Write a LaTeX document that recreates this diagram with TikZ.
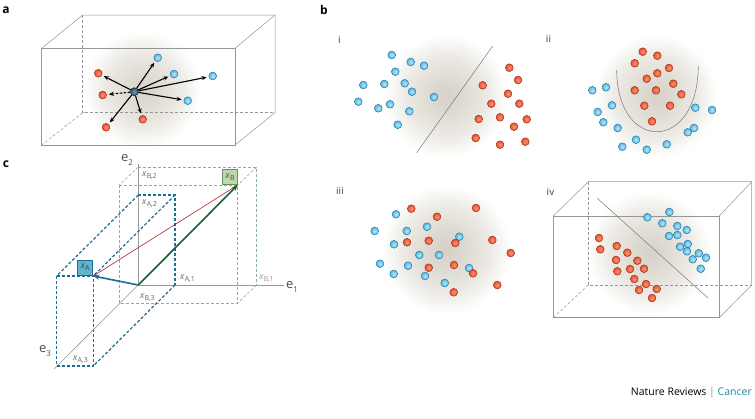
\documentclass[tikz,border=0pt]{standalone}
\usepackage{fontspec}
\setmainfont{Open Sans}
\usetikzlibrary{arrows.meta}
\definecolor{Rhi}{RGB}{250,150,118}
\definecolor{Rmid}{RGB}{226,80,44}
\definecolor{Rdark}{RGB}{170,48,24}
\definecolor{Bhi}{RGB}{185,232,250}
\definecolor{Bmid}{RGB}{84,180,222}
\definecolor{Bdark}{RGB}{38,124,168}
\definecolor{Chi}{RGB}{120,150,170}
\definecolor{Cmid}{RGB}{55,88,110}
\definecolor{Cdark}{RGB}{25,45,60}
\definecolor{glowc}{RGB}{198,189,172}
\definecolor{boxgray}{RGB}{150,150,150}
\definecolor{bgreen}{RGB}{140,172,165}
\definecolor{ablue}{RGB}{28,110,150}
\definecolor{dgreen}{RGB}{22,100,45}
\definecolor{dred}{RGB}{165,40,55}
\definecolor{xAfill}{RGB}{100,178,205}
\definecolor{xBfill}{RGB}{188,216,172}
\definecolor{xBdraw}{RGB}{105,145,95}
\definecolor{labgray}{RGB}{105,105,105}
\definecolor{cancer}{RGB}{25,135,165}
\tikzset{
  ballR/.style={circle, inner sep=0pt, minimum size=7.8pt, inner color=Rhi, outer color=Rmid, draw=Rdark, line width=0.5pt},
  ballB/.style={circle, inner sep=0pt, minimum size=7.8pt, inner color=Bhi, outer color=Bmid, draw=Bdark, line width=0.5pt},
  ballC/.style={circle, inner sep=0pt, minimum size=7.8pt, inner color=Chi, outer color=Cmid, draw=Cdark, line width=0.5pt},
  glowlayer/.style={fill=glowc, fill opacity=0.045},
  boxline/.style={draw=boxgray, line width=0.5pt},
  boxdash/.style={draw=boxgray, line width=0.5pt, dash pattern=on 3pt off 2pt},
  sepline/.style={draw=gray, line width=0.55pt},
  vecarrow/.style={black, line width=1.1pt, -{Stealth[length=5pt,width=4.2pt]}, shorten >=2pt},
  panel/.style={font=\fontsize{12}{12}\selectfont\bfseries, inner sep=0pt},
  sublab/.style={font=\fontsize{10}{10}\selectfont, text=black!75, inner sep=0pt},
  axisline/.style={draw=black!40, line width=0.6pt},
  bbox/.style={draw=bgreen, line width=0.6pt, dash pattern=on 3pt off 2pt},
  abox/.style={draw=ablue, line width=1.2pt, dash pattern=on 3pt off 2pt},
  clab/.style={text=labgray, inner sep=0pt, font=\fontsize{9}{9}\selectfont},
  elab/.style={text=black!70, inner sep=0pt, font=\fontsize{13}{13}\selectfont},
  vbox/.style={minimum size=15pt, inner sep=0pt, line width=0.5pt, font=\fontsize{9}{9}\selectfont}
}
\newcommand{\xlab}[1]{\textit{x}\raisebox{-0.45ex}{\fontsize{7}{7}\selectfont #1}}
\newcommand{\elabel}[1]{e\raisebox{-0.5ex}{\fontsize{8}{8}\selectfont #1}}
\newcommand{\glowat}[2]{\foreach \gr in {3,6,...,#2} {\fill[glowlayer] (#1) circle (\gr);}}
\begin{document}
\begin{tikzpicture}[x=1pt,y=-1pt]
\path[use as bounding box, fill=white] (0,0) rectangle (755,418);
% glows
\coordinate (ga) at (143,90);
\coordinate (gi) at (446.7,96.7);
\coordinate (gii) at (656.7,96.7);
\coordinate (giii) at (446.7,250);
\coordinate (giv) at (650,253);
\glowat{ga}{57}
\glowat{gi}{60}
\glowat{gii}{60}
\glowat{giii}{63}
\glowat{giv}{60}

% panel letters
\node[panel] (pa) at (6,10) {a};
\node[panel] (pb) at (324,10) {b};
\node[panel] (pc) at (6,164) {c};

% ---------- panel a ----------
\coordinate (aF1) at (41.7,48.3); \coordinate (aF2) at (235,48.3);
\coordinate (aF3) at (235,145);  \coordinate (aF4) at (41.7,145);
\coordinate (aB1) at (82.7,15);  \coordinate (aB2) at (275,15);
\coordinate (aB3) at (275,112.7); \coordinate (aB4) at (82.7,112.7);
\draw[boxdash] (aB1) -- (aB4) -- (aB3);
\draw[boxdash] (aB4) -- (aF4);
\draw[boxline] (aF1) -- (aF2) -- (aF3) -- (aF4) -- cycle;
\draw[boxline] (aF1) -- (aB1) -- (aB2) -- (aB3) -- (aF3);
\draw[boxline] (aF2) -- (aB2);
\node[ballR] (ar1) at (98.3,73.3) {};
\node[ballR] (ar2) at (102.7,95) {};
\node[ballR] (ar3) at (106,127.3) {};
\node[ballR] (ar4) at (142.7,119.3) {};
\node[ballB] (ab1) at (157.7,57.7) {};
\node[ballB] (ab2) at (174,74) {};
\node[ballB] (ab3) at (212.7,76) {};
\node[ballB] (ab4) at (187.7,100.7) {};
\node[ballC] (ac) at (134.3,91.7) {};
\draw[vecarrow] (ac) -- (ar1);
\draw[vecarrow, dash pattern=on 2.5pt off 1.5pt] (ac) -- (ar2);
\draw[vecarrow] (ac) -- (ar3);
\draw[vecarrow] (ac) -- (ar4);
\draw[vecarrow] (ac) -- (ab1);
\draw[vecarrow] (ac) -- (ab2);
\draw[vecarrow] (ac) -- (ab3);
\draw[vecarrow] (ac) -- (ab4);
\node[ballC] (ac2) at (134.3,91.7) {};

% ---------- panel b i ----------
\node[sublab] (li) at (339.5,40) {i};
\coordinate (si1) at (492.7,46); \coordinate (si2) at (416.7,152.7);
\draw[sepline] (si1) -- (si2);
\foreach \x/\y [count=\k] in {391.7/55, 410.7/62, 424/65.7, 395.3/71.7, 363.3/85, 384.3/84, 404.7/83.3, 412/91.7, 434/97, 358.3/101.7, 390/104.3, 378.3/108.3, 409.3/111.3, 397.7/124.7}
  \node[ballB] (biB\k) at (\x,\y) {};
\foreach \x/\y [count=\k] in {509.3/67.7, 518/80, 482.7/85.3, 508/93.7, 491.3/103.7, 519.3/103.7, 500/117.3, 478.7/119, 526.7/119.3, 514/126.7, 475.7/138, 500/144.7, 525.3/141.7}
  \node[ballR] (biR\k) at (\x,\y) {};

% ---------- panel b ii ----------
\node[sublab] (lii) at (548.5,38.5) {ii};
\coordinate (sii1) at (616.7,70); \coordinate (sii2) at (698.3,65.7);
\draw[sepline] (sii1) .. controls (617,153) and (698,153) .. (sii2);
\foreach \x/\y [count=\k] in {642.7/51.7, 657.3/55.7, 634.7/63.3, 669/68, 657.3/73.3, 646.7/78.7, 673.3/83.7, 634.7/90.3, 656/90.3, 681.3/94.3, 644.3/105.7, 670/105.7, 652/121.3}
  \node[ballR] (biiR\k) at (\x,\y) {};
\foreach \x/\y [count=\k] in {592.3/90.3, 606/87.3, 612/105.3, 597.7/112, 603.3/122.3, 617.7/128, 636/139.7, 622.3/146.7, 646.7/149.7, 666.7/144.3, 687.7/132.3, 694/128, 695.3/107.7, 712/110}
  \node[ballB] (biiB\k) at (\x,\y) {};

% ---------- panel b iii ----------
\node[sublab] (liii) at (340,190.5) {iii};
\foreach \x/\y [count=\k] in {396/214.3, 374.7/231, 406.7/231, 427/226.7, 394/244.3, 419.3/255, 439/255, 380/263.7, 408/265.7, 393.7/274, 425/276, 444.7/283}
  \node[ballB] (biiiB\k) at (\x,\y) {};
\foreach \x/\y [count=\k] in {411.3/208.7, 476/208, 437/216.7, 407/242.3, 428.7/240.7, 492.3/240, 510.7/253, 428.7/267.7, 454/265, 497.3/285, 453.7/292.3}
  \node[ballR] (biiiR\k) at (\x,\y) {};
\node[ballB] (biiiB13) at (459.3,236.7) {};
\node[ballR] (biiiR12) at (455.3,243) {};
\node[ballB] (biiiB14) at (469,268) {};
\node[ballR] (biiiR13) at (473,273.3) {};

% ---------- panel b iv ----------
\node[sublab] (liv) at (550.5,192) {iv};
\coordinate (dF1) at (553.3,216); \coordinate (dF2) at (719.3,216);
\coordinate (dF3) at (719.3,317.7); \coordinate (dF4) at (553.3,317.7);
\coordinate (dB1) at (588.3,181.7); \coordinate (dB2) at (751.7,181.7);
\coordinate (dB3) at (751.7,285); \coordinate (dB4) at (588.3,285);
\draw[boxdash] (dB1) -- (dB4) -- (dB3);
\draw[boxdash] (dB4) -- (dF4);
\draw[boxline] (dF1) -- (dF2) -- (dF3) -- (dF4) -- cycle;
\draw[boxline] (dF1) -- (dB1) -- (dB2) -- (dB3) -- (dF3);
\draw[boxline] (dF2) -- (dB2);
\coordinate (siv1) at (597.3,198.3); \coordinate (siv2) at (708.3,298.3);
\draw[sepline] (siv1) -- (siv2);
\foreach \x/\y [count=\k] in {647.3/217.3, 669.3/212, 662.3/223.3, 677.3/226, 686.7/230, 669/236, 677.3/235, 687.7/244, 680/246.7, 687/251.3, 698.7/253.3, 706/257.7, 692.7/259.3, 700.7/268.7}
  \node[ballB] (bivB\k) at (\x,\y) {};
\foreach \x/\y [count=\k] in {599/238, 600.3/249.3, 616.7/246, 627.3/252.7, 616/260, 637.3/260.7, 617.3/271.3, 630/269, 644/268.7, 634.3/279, 646/284, 639/290, 656.7/289, 652/298}
  \node[ballR] (bivR\k) at (\x,\y) {};

% ---------- panel c ----------
\coordinate (O) at (138.3,285);
\coordinate (E1) at (284,285);
\coordinate (E2) at (138.3,164);
\coordinate (E3) at (54,369);
% box B corners
\coordinate (B1) at (256.7,285); \coordinate (B2) at (138.3,167);
\coordinate (B3) at (119.3,303); \coordinate (B12) at (256.7,167);
\coordinate (B13) at (237.7,303); \coordinate (B23) at (119.3,185);
\coordinate (B) at (237.7,185);
% box A corners
\coordinate (A1) at (175,285); \coordinate (A2) at (138.3,195);
\coordinate (A3) at (56.6,366); \coordinate (A12) at (175,195);
\coordinate (A13) at (93.3,366); \coordinate (A23) at (56.6,276);
\coordinate (A) at (93.3,276);
\draw[axisline] (O) -- (E1);
\draw[axisline] (O) -- (E2);
\draw[axisline] (O) -- (E3);
\draw[bbox] (B2) -- (B12) -- (B1);
\draw[bbox] (B23) -- (B) -- (B13) -- (B3) -- (B23);
\draw[bbox] (B2) -- (B23);
\draw[bbox] (B12) -- (B);
\draw[bbox] (B1) -- (B13);
\draw[abox] (A2) -- (A12) -- (A1);
\draw[abox] (A2) -- (A23);
\draw[abox] (A12) -- (A);
\draw[abox] (A1) -- (A13);
\draw[abox] (A23) -- (A) -- (A13) -- (A3) -- (A23);
\node[vbox, fill=xAfill, draw=ablue, text=ablue!70!black] (xA) at (85,267.5) {\xlab{A}};
\node[vbox, fill=xBfill, draw=xBdraw, text=xBdraw!60!black] (xB) at (230,177) {\xlab{B}};
\draw[dred, line width=0.6pt, -{Stealth[length=4pt,width=3pt]}] (B) -- (A);
\draw[dgreen, line width=1.6pt, -{Stealth[length=6pt,width=5pt]}] (O) -- (B);
\draw[ablue, line width=1.6pt, -{Stealth[length=6pt,width=5pt]}] (O) -- (A);
\node[elab] (e1) at (292,287) {\elabel{1}};
\node[elab] (e2) at (127,160) {\elabel{2}};
\node[elab] (e3) at (45,351) {\elabel{3}};
\node[clab, anchor=west] (lB2) at (142,175.5) {\xlab{B,2}};
\node[clab, anchor=west] (lA2) at (142,203.5) {\xlab{A,2}};
\node[clab, anchor=west] (lA1) at (180,278.5) {\xlab{A,1}};
\node[clab, anchor=west, text=black!40] (lB1) at (259,278.5) {\xlab{B,1}};
\node[clab, anchor=west] (lB3) at (140,297.5) {\xlab{B,3}};
\node[clab, anchor=west] (lA3) at (73,359.5) {\xlab{A,3}};

% credit
\node[anchor=east, inner sep=0pt, font=\fontsize{10.5}{12}\selectfont] (credit) at (752,393) {Nature Reviews \textcolor{black!45}{|} \textcolor{cancer}{Cancer}};
\end{tikzpicture}
\end{document}
